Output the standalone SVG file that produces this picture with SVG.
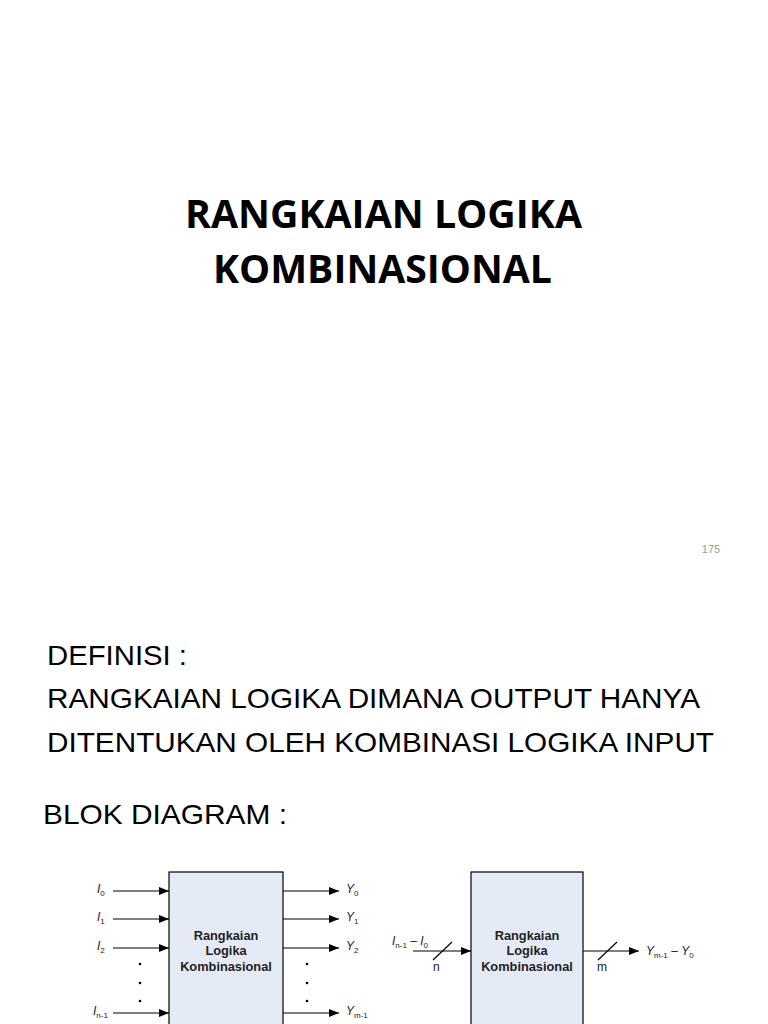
<svg xmlns="http://www.w3.org/2000/svg" width="768" height="1024" viewBox="0 0 768 1024">
<style>
.title{font-family:"Open Sans","Liberation Sans",sans-serif;font-weight:bold;font-size:39px;fill:#000}
.body{font-family:"Liberation Sans",Arial,sans-serif;font-size:28px;fill:#000}
.box{fill:#e5ebf6;stroke:#000;stroke-width:1.2}
.bl{font-family:"Liberation Sans",Arial,sans-serif;font-weight:bold;font-size:12.8px;fill:#222}
.lbl{font-family:"Liberation Sans",Arial,sans-serif;font-style:italic;font-size:12px;fill:#222}
.up{font-family:"Liberation Sans",Arial,sans-serif;font-style:normal;font-size:12px;fill:#222}
.sub{font-style:normal;font-size:8px}
.ln{stroke:#000;stroke-width:1.2;fill:none}
.dot{fill:#000}
.pg{font-family:"Liberation Sans",Arial,sans-serif;font-size:11px;fill:#999}
</style>
<defs>
<marker id="ah" markerWidth="10" markerHeight="8" refX="10" refY="4" orient="auto" markerUnits="userSpaceOnUse">
<path d="M0,0 L10,4 L0,8 z" fill="#000"/>
</marker>
</defs>
<rect width="768" height="1024" fill="#fff"/>
<g id="title">
<text class="title" x="185" y="228" textLength="397" lengthAdjust="spacingAndGlyphs">RANGKAIAN LOGIKA</text>
<text class="title" x="213" y="283" textLength="339" lengthAdjust="spacingAndGlyphs">KOMBINASIONAL</text>
</g>
<text class="pg" x="711" y="553" text-anchor="middle">175</text>
<g id="definition">
<text class="body" x="47" y="665" textLength="140" lengthAdjust="spacingAndGlyphs">DEFINISI :</text>
<text class="body" x="47" y="708" textLength="653" lengthAdjust="spacingAndGlyphs">RANGKAIAN LOGIKA DIMANA OUTPUT HANYA</text>
<text class="body" x="47" y="752" textLength="667" lengthAdjust="spacingAndGlyphs">DITENTUKAN OLEH KOMBINASI LOGIKA INPUT</text>
<text class="body" x="43" y="824" textLength="244" lengthAdjust="spacingAndGlyphs">BLOK DIAGRAM :</text>
</g>
<g id="box1">
<rect class="box" x="169" y="872" width="114" height="170"/>
<text class="bl" x="226" y="940" text-anchor="middle">Rangkaian</text>
<text class="bl" x="226" y="955" text-anchor="middle">Logika</text>
<text class="bl" x="226" y="971" text-anchor="middle">Kombinasional</text>
</g>
<g id="box2">
<rect class="box" x="471" y="872" width="112" height="170"/>
<text class="bl" x="527" y="940" text-anchor="middle">Rangkaian</text>
<text class="bl" x="527" y="955" text-anchor="middle">Logika</text>
<text class="bl" x="527" y="971" text-anchor="middle">Kombinasional</text>
</g>
<g id="connectors">
<line class="ln" x1="113" y1="891" x2="169" y2="891" marker-end="url(#ah)"/>
<line class="ln" x1="113" y1="919" x2="169" y2="919" marker-end="url(#ah)"/>
<line class="ln" x1="113" y1="948" x2="169" y2="948" marker-end="url(#ah)"/>
<line class="ln" x1="113" y1="1013" x2="169" y2="1013" marker-end="url(#ah)"/>
<line class="ln" x1="283" y1="891" x2="339" y2="891" marker-end="url(#ah)"/>
<line class="ln" x1="283" y1="919" x2="339" y2="919" marker-end="url(#ah)"/>
<line class="ln" x1="283" y1="948" x2="339" y2="948" marker-end="url(#ah)"/>
<line class="ln" x1="283" y1="1013" x2="339" y2="1013" marker-end="url(#ah)"/>
<line class="ln" x1="413" y1="951" x2="471" y2="951" marker-end="url(#ah)"/>
<line class="ln" x1="433" y1="960" x2="452" y2="942"/>
<line class="ln" x1="583" y1="951" x2="639" y2="951" marker-end="url(#ah)"/>
<line class="ln" x1="598" y1="960" x2="617" y2="942"/>
</g>
<g id="labels1">
<text class="lbl" x="97" y="893">I<tspan class="sub" dy="3">0</tspan></text>
<text class="lbl" x="97" y="921">I<tspan class="sub" dy="3">1</tspan></text>
<text class="lbl" x="97" y="950">I<tspan class="sub" dy="3">2</tspan></text>
<text class="lbl" x="93" y="1015">I<tspan class="sub" dy="3">n-1</tspan></text>
<text class="lbl" x="346" y="893">Y<tspan class="sub" dy="3">0</tspan></text>
<text class="lbl" x="346" y="921">Y<tspan class="sub" dy="3">1</tspan></text>
<text class="lbl" x="346" y="950">Y<tspan class="sub" dy="3">2</tspan></text>
<text class="lbl" x="346" y="1015">Y<tspan class="sub" dy="3">m-1</tspan></text>
<circle class="dot" cx="140" cy="964" r="1.3"/>
<circle class="dot" cx="140" cy="983" r="1.3"/>
<circle class="dot" cx="140" cy="1001" r="1.3"/>
<circle class="dot" cx="307" cy="964" r="1.3"/>
<circle class="dot" cx="307" cy="983" r="1.3"/>
<circle class="dot" cx="307" cy="1001" r="1.3"/>
</g>
<g id="labels2">
<text class="lbl" x="392" y="945">I<tspan class="sub" dy="3">n-1</tspan><tspan class="up" dy="-3"> – </tspan>I<tspan class="sub" dy="3">0</tspan></text>
<text class="up" x="433" y="971">n</text>
<text class="up" x="597" y="971">m</text>
<text class="lbl" x="646" y="955">Y<tspan class="sub" dy="3">m-1</tspan><tspan class="up" dy="-3"> – </tspan>Y<tspan class="sub" dy="3">0</tspan></text>
</g>
</svg>
